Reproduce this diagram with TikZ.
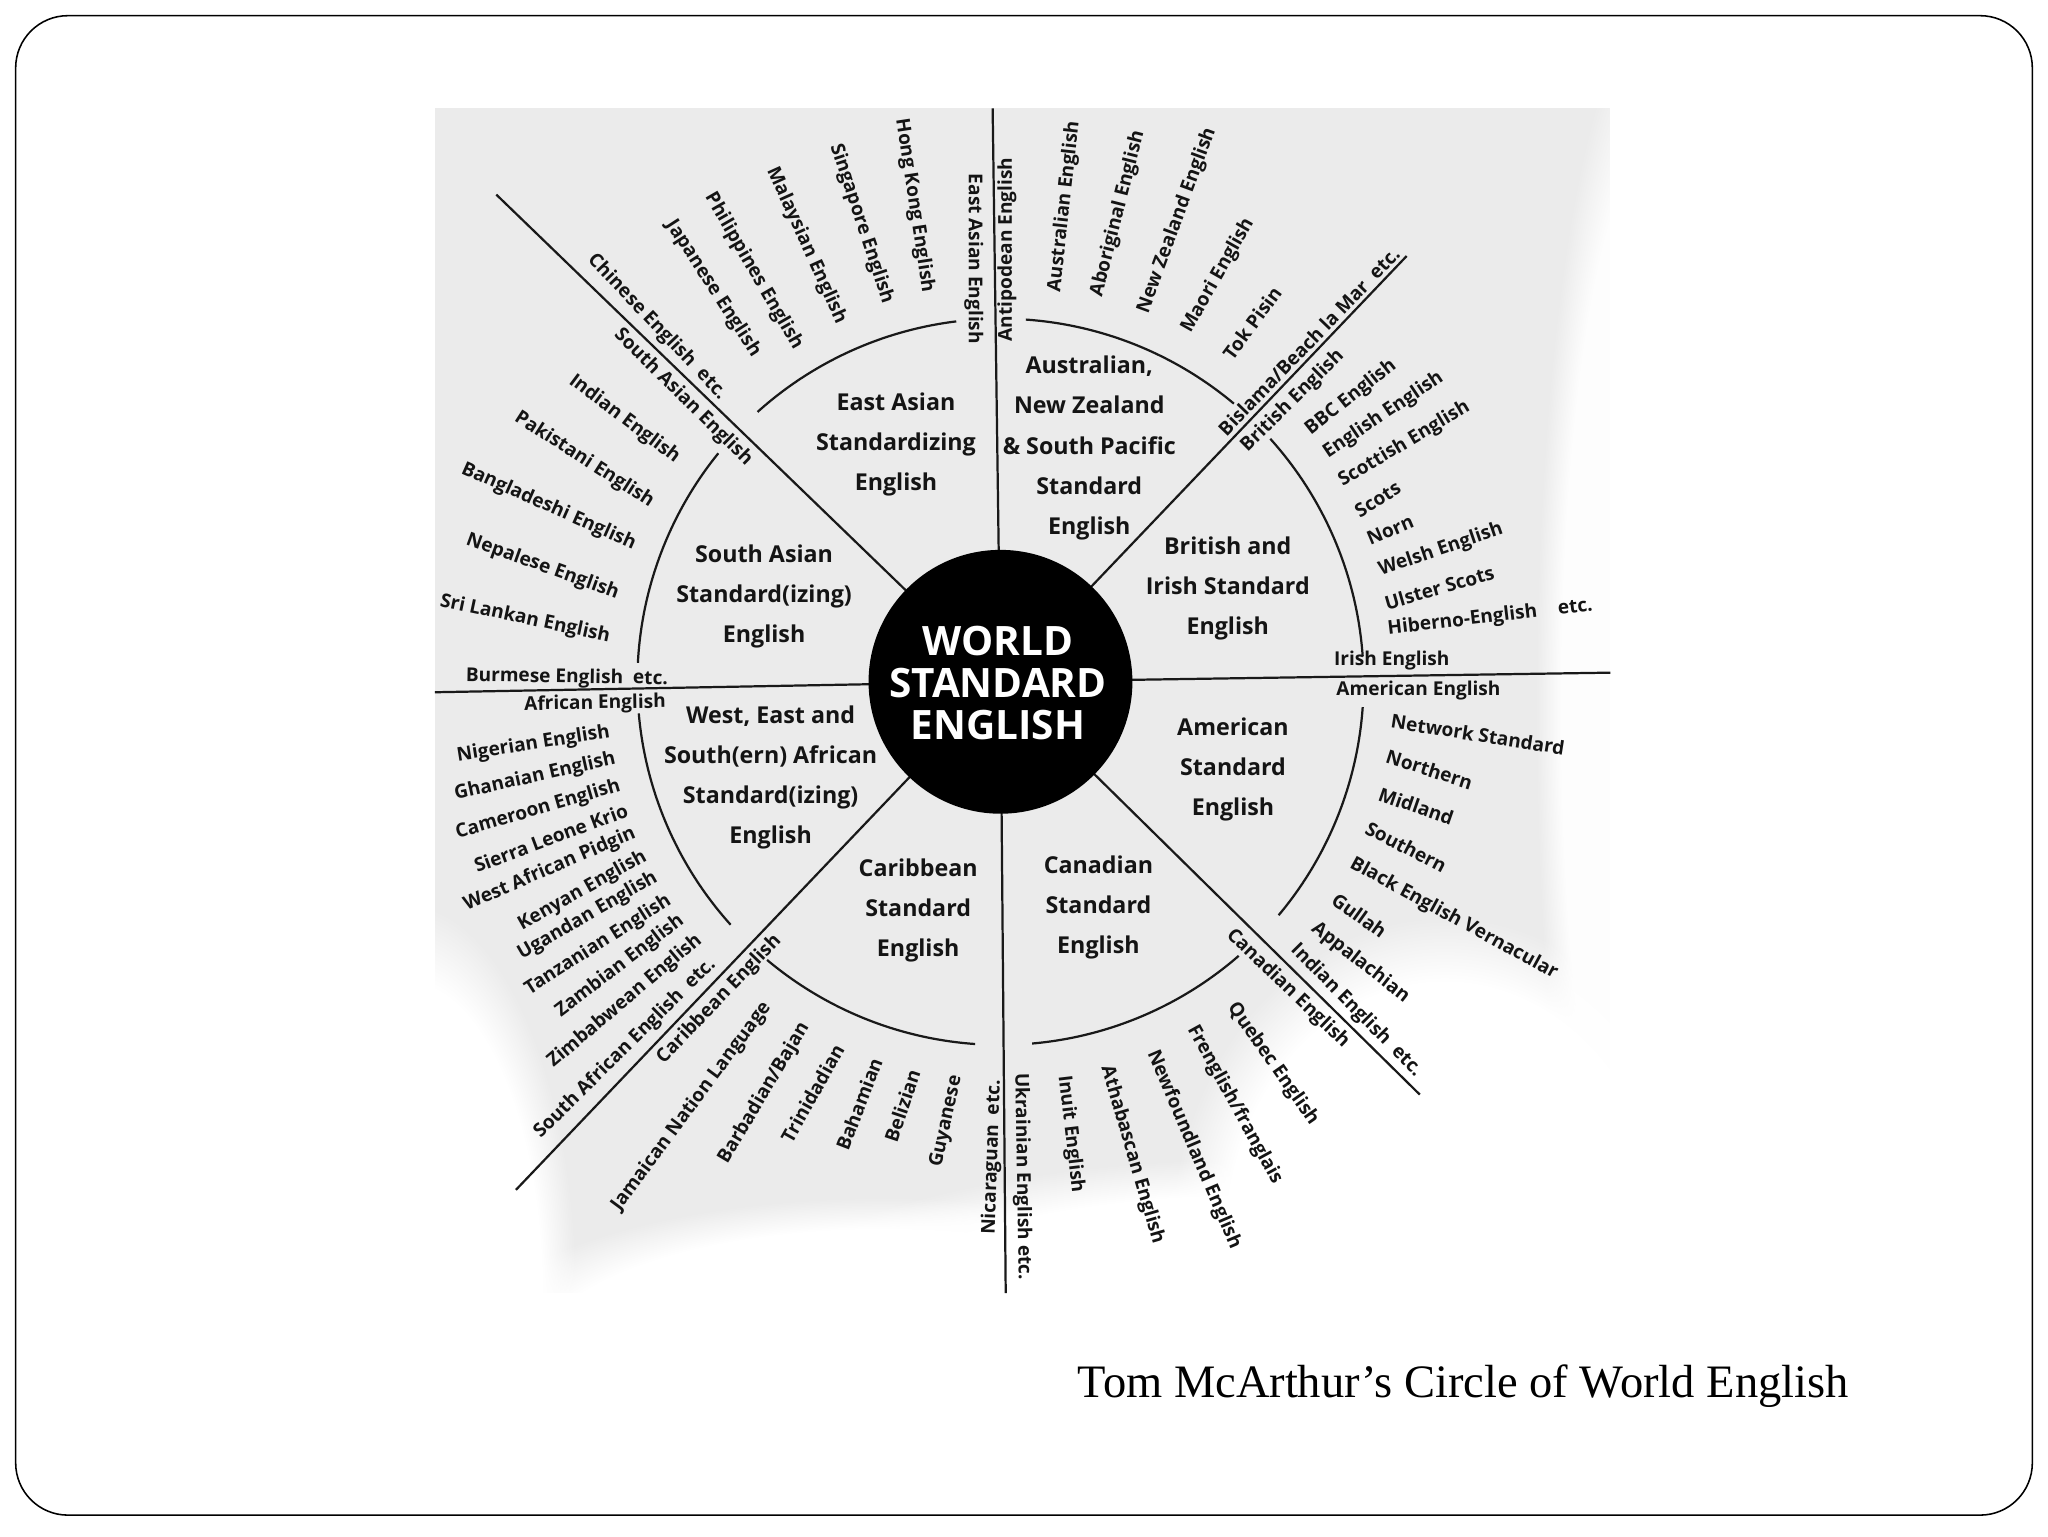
\documentclass[tikz,border=0pt]{standalone}
\usepackage{fontspec}
\setmainfont{Liberation Serif}
\newfontfamily\labfont{Open Sans}
\usetikzlibrary{fadings}
\begin{document}
\begin{tikzpicture}[x=1pt,y=1pt,
  lab/.style={font=\labfont\bfseries\fontsize{14.6}{17}\selectfont, inner sep=0pt, text=black!92},
  sect/.style={font=\labfont\bfseries\fontsize{17.8}{30.7}\selectfont, align=center, inner sep=0pt, text=black!92},
  ctr/.style={font=\labfont\bfseries\fontsize{31}{32}\selectfont, align=center, text=white, inner sep=0pt},
  divider/.style={line width=1.7pt, black!90},
  ring/.style={line width=1.7pt, black!90},
  fog/.style={white, path fading=circle with fuzzy edge 20 percent}
]
\useasboundingbox (-766,-654) rectangle (802,522);
\fill[white] (-766,-654) rectangle (802,522);
\draw[line width=1.2pt, rounded corners=40pt] (-754,-638) rectangle (790,510);

% scanned background
\begin{scope}
\clip (-433,-468) rectangle (467,439);
\fill[gray!16] (-433,-468) rectangle (467,439);
\fill[fog, opacity=0.9] (505,-20) ellipse [x radius=95, y radius=540];
\fill[fog] (340,-430) ellipse [x radius=210, y radius=250];
\fill[fog] (200,-505) ellipse [x radius=420, y radius=140];
\fill[fog] (-90,-515) ellipse [x radius=330, y radius=120];
\fill[fog] (-455,-470) ellipse [x radius=130, y radius=300];
\end{scope}

% dividers
\coordinate (C) at (0,0);
\coordinate (eN) at (-6,439);
\coordinate (eS) at (4,-468);
\coordinate (eW) at (-433,-8);
\coordinate (eE) at (467,7);
\coordinate (eNW) at (-386,373);
\coordinate (eNE) at (311,326);
\coordinate (eSE) at (321,-316);
\coordinate (eSW) at (-371,-389);
\foreach \p in {eN,eS,eW,eE,eNW,eNE,eSE,eSW}
  \draw[divider] (C) -- (\p);

% ring arcs
\draw[ring] (97:278) arc[start angle=97, end angle=132, radius=278];
\draw[ring] (50:278) arc[start angle=50, end angle=86, radius=278];
\draw[ring] (4:278) arc[start angle=4, end angle=42, radius=278];
\draw[ring] (-40:278) arc[start angle=-40, end angle=-4, radius=278];
\draw[ring] (-85:278) arc[start angle=-85, end angle=-49, radius=278];
\draw[ring] (-130:278) arc[start angle=-130, end angle=-94, radius=278];
\draw[ring] (185:278) arc[start angle=185, end angle=222, radius=278];
\draw[ring] (141:278) arc[start angle=141, end angle=177, radius=278];

% centre
\fill[black] (C) circle (101);
\node[ctr] (world) at (-2,-1) {WORLD\\STANDARD\\ENGLISH};

% sector titles
\node[sect] (seA) at (-80,181.5) {East Asian\\Standardizing\\English};
\node[sect] (sAu) at (68,179) {Australian,\\New Zealand\\\& South Pacific\\Standard\\English};
\node[sect] (sBr) at (174,71.5) {British and\\Irish Standard\\English};
\node[sect] (sAm) at (178,-67) {American\\Standard\\English};
\node[sect] (sCa) at (75,-173) {Canadian\\Standard\\English};
\node[sect] (sCb) at (-63,-175) {Caribbean\\Standard\\English};
\node[sect] (sAf) at (-176,-73.5) {West, East and\\South(ern) African\\Standard(izing)\\English};
\node[sect] (sSA) at (-181,65.5) {South Asian\\Standard(izing)\\English};

% East Asian
\node[lab, rotate=-90] (l1) at (-20.5,323.8) {East Asian English};
\node[lab, rotate=-81.3] (l2) at (-66,364.6) {Hong Kong English};
\node[lab, rotate=-71.7] (l3) at (-106.5,350.6) {Singapore English};
\node[lab, rotate=-65.7] (l4) at (-148.7,334) {Malaysian English};
\node[lab, rotate=-60] (l5) at (-189,314.3) {Philippines English};
\node[lab, rotate=-57] (l6) at (-220,301) {Japanese English};
\node[lab, rotate=-46.4] (l7) at (-263,271.6) {Chinese English~~etc.};
% South Asian
\node[lab, rotate=-44.6] (l8) at (-243,217.6) {South Asian English};
\node[lab, rotate=-37] (l9) at (-288,201) {Indian English};
\node[lab, rotate=-32.7] (l10) at (-318.7,169.8) {Pakistani English};
\node[lab, rotate=-23.9] (l11) at (-346,134) {Bangladeshi English};
\node[lab, rotate=-19.8] (l12) at (-350.6,88.2) {Nepalese English};
\node[lab, rotate=-11.9] (l13) at (-364,48) {Sri Lankan English};
\node[lab, rotate=-1] (l14) at (-332,3) {Burmese English~~etc.};
% African
\node[lab, rotate=1] (l15) at (-310.4,-17) {African English};
\node[lab, rotate=8.9] (l16) at (-357.6,-48) {Nigerian English};
\node[lab, rotate=12.6] (l17) at (-356.3,-73) {Ghanaian English};
\node[lab, rotate=16.3] (l18) at (-354,-98) {Cameroon English};
\node[lab, rotate=20.5] (l19) at (-344.2,-119.4) {Sierra Leone Krio};
\node[lab, rotate=23.3] (l20) at (-345,-143.7) {West African Pidgin};
\node[lab, rotate=29.2] (l21) at (-320,-160) {Kenyan English};
\node[lab, rotate=30] (l22) at (-316,-179.4) {Ugandan English};
\node[lab, rotate=32.6] (l23) at (-308,-201.7) {Tanzanian English};
\node[lab, rotate=37.3] (l24) at (-291.3,-217.7) {Zambian English};
\node[lab, rotate=40.2] (l25) at (-287.5,-244.5) {Zimbabwean English};
\node[lab, rotate=44.7] (l26) at (-287.4,-280.8) {South African English~~etc.};
% Caribbean
\node[lab, rotate=46.2] (l27) at (-215.3,-243.2) {Caribbean English};
\node[lab, rotate=53.5] (l28) at (-236.6,-325.2) {Jamaican Nation Language};
\node[lab, rotate=59.3] (l29) at (-181,-315) {Barbadian/Bajan};
\node[lab, rotate=60.7] (l30) at (-144,-315) {Trinidadian};
\node[lab, rotate=69] (l31) at (-108.3,-323.3) {Bahamian};
\node[lab, rotate=71.5] (l32) at (-75.2,-324.5) {Belizian};
\node[lab, rotate=77.8] (l33) at (-41.3,-336.6) {Guyanese};
\node[lab, rotate=88] (l34) at (-6.3,-364) {Nicaraguan~~etc.};
% Canadian
\node[lab, rotate=-89] (l35) at (16.5,-378.8) {Ukrainian English etc.};
\node[lab, rotate=-83.3] (l36) at (53.6,-346.3) {Inuit English};
\node[lab, rotate=-73.7] (l37) at (100.8,-362.2) {Athabascan English};
\node[lab, rotate=-66.9] (l38) at (148,-358.4) {Newfoundland English};
\node[lab, rotate=-61.2] (l39) at (179.3,-323.9) {Frenglish/franglais};
\node[lab, rotate=-55] (l40) at (208.6,-292.7) {Quebec English};
\node[lab, rotate=-43.7] (l41) at (220,-235.2) {Canadian English};
% American
\node[lab, rotate=-45.4] (l42) at (272.4,-251.8) {Indian English~~etc.};
\node[lab, rotate=-38] (l43) at (275.5,-215) {Appalachian};
\node[lab, rotate=-35.7] (l44) at (274.8,-178.8) {Gullah};
\node[lab, rotate=-28.6] (l45) at (347,-181.3) {Black English Vernacular};
\node[lab, rotate=-27.5] (l46) at (310.6,-126.5) {Southern};
\node[lab, rotate=-19.2] (l47) at (318.3,-95.2) {Midland};
\node[lab, rotate=-17.7] (l48) at (328.4,-67.1) {Northern};
\node[lab, rotate=-8.9] (l49) at (365.5,-40.3) {Network Standard};
\node[lab] (l50) at (320,-6.5) {American English};
% British
\node[lab] (l51) at (299.6,16.5) {Irish English};
\node[lab, rotate=6.7] (l52) at (374.9,49.1) {Hiberno-English\hspace{1.1em}etc.};
\node[lab, rotate=16] (l53) at (336,72) {Ulster Scots};
\node[lab, rotate=18.9] (l54) at (337.2,100.8) {Welsh English};
\node[lab, rotate=22.9] (l55) at (298.3,116) {Norn};
\node[lab, rotate=32.6] (l56) at (288.7,139.7) {Scots};
\node[lab, rotate=30.8] (l57) at (309.2,181.8) {Scottish English};
\node[lab, rotate=33.9] (l58) at (293.2,204.1) {English English};
\node[lab, rotate=38.4] (l59) at (268.3,217.5) {BBC English};
\node[lab, rotate=44.5] (l60) at (223.7,215) {British English};
\node[lab, rotate=46.1] (l61) at (236,260.6) {Bislama/Beach la Mar~~etc.};
% Australian
\node[lab, rotate=90] (l62) at (5,331) {Antipodean English};
\node[lab, rotate=83.7] (l63) at (49,364) {Australian English};
\node[lab, rotate=75.8] (l64) at (90,358.3) {Aboriginal English};
\node[lab, rotate=69.9] (l65) at (135.2,353.1) {New Zealand English};
\node[lab, rotate=60.5] (l66) at (166.5,311) {Maori English};
\node[lab, rotate=53.6] (l67) at (192.6,274.7) {Tok Pisin};

% caption
\node[font=\fontsize{35.6}{40}\selectfont, anchor=base west, inner sep=0pt] (cap) at (59,-548) {Tom McArthur’s Circle of World English};
\end{tikzpicture}
\end{document}
